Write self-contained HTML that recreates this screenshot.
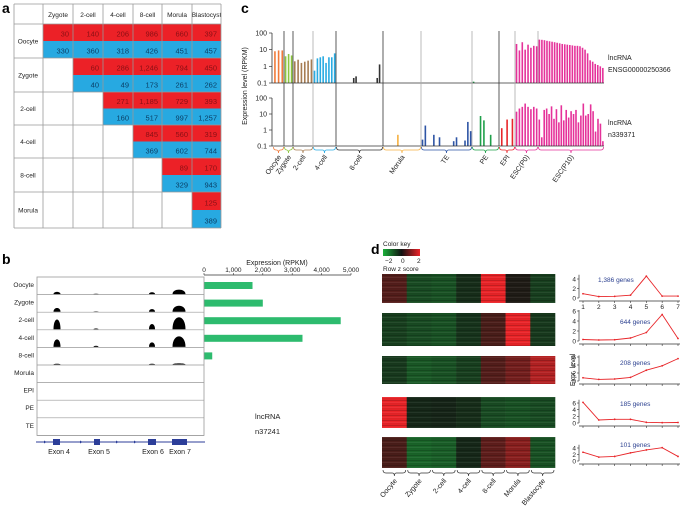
<!DOCTYPE html>
<html><head><meta charset="utf-8">
<style>
html,body{margin:0;padding:0;background:#fff;}
svg{display:block;font-family:"Liberation Sans",Arial,sans-serif;}
</style></head>
<body>
<svg id="fig" width="685" height="510" viewBox="0 0 685 510" xmlns="http://www.w3.org/2000/svg">
<defs>
<linearGradient id="ckey" x1="0" x2="1" y1="0" y2="0">
<stop offset="0" stop-color="#1bb03a"/><stop offset="0.5" stop-color="#111"/><stop offset="1" stop-color="#ee2229"/>
</linearGradient>
<pattern id="stripes" width="10" height="5" patternUnits="userSpaceOnUse">
<rect x="0" y="0" width="10" height="1" fill="#000" opacity="0.18"/>
<rect x="0" y="2" width="10" height="1" fill="#fff" opacity="0.06"/>
<rect x="0" y="3.5" width="10" height="0.8" fill="#000" opacity="0.1"/>
</pattern>
</defs>
<text x="2" y="13" font-size="14" font-weight="bold">a</text>
<text x="2" y="264" font-size="14" font-weight="bold">b</text>
<text x="241" y="13" font-size="14" font-weight="bold">c</text>
<text x="371" y="254" font-size="14" font-weight="bold">d</text>
</svg>
<script>
const NS='http://www.w3.org/2000/svg';
const svg=document.getElementById('fig');
function mk(tag,attrs,parent){const e=document.createElementNS(NS,tag);for(const k in attrs)e.setAttribute(k,attrs[k]);(parent||svg).appendChild(e);return e;}

/* ===== Panel a data ===== */
const aCols=['Zygote','2-cell','4-cell','8-cell','Morula','Blastocyst'];
const aRows=['Oocyte','Zygote','2-cell','4-cell','8-cell','Morula'];
const aUp=[['30','140','206','986','660','397'],['60','286','1,246','794','450'],['271','1,185','729','393'],['845','560','319'],['89','170'],['125']];
const aDown=[['330','360','318','426','451','457'],['40','49','173','261','262'],['160','517','997','1,257'],['369','602','744'],['329','943'],['389']];

const colX=[14,43,73,103,133,162,192,221];
const rowY=[4,24,58,92,125,158,192,228];
const gA=mk('g',{});


aRows.forEach((r,i)=>{
  const y0=rowY[i+1],y1=rowY[i+2],ym=(y0+y1)/2;
  aUp[i].forEach((v,j)=>{
    const c=i+j+1;const x0=colX[c],x1=colX[c+1];
    const rr=mk('rect',{x:x0,y:y0,width:x1-x0,height:ym-y0,fill:'#ec2127'},gA);
    
    
    const rb=mk('rect',{x:x0,y:ym,width:x1-x0,height:y1-ym,fill:'#27a9e1'},gA);
    
    
    const t1=mk('text',{x:x1-4,y:ym-4.5,'font-size':7.5,'text-anchor':'end',fill:'#8a1015'},gA);t1.textContent=v;
    
    
    const t2=mk('text',{x:x1-4,y:y1-4.5,'font-size':7.5,'text-anchor':'end',fill:'#0b3f66'},gA);t2.textContent=aDown[i][j];
    
    
  });
  const rl=mk('text',{x:28,y:ym+2.5,'font-size':6.5,'text-anchor':'middle',fill:'#222'},gA);rl.textContent=r;
  
  
});
aCols.forEach((c,j)=>{
  const t=mk('text',{x:(colX[j+1]+colX[j+2])/2,y:17,'font-size':6.5,'text-anchor':'middle',fill:'#222'},gA);t.textContent=c;
  
  
});
colX.forEach(x=>mk('line',{x1:x,x2:x,y1:4,y2:228,stroke:'#999','stroke-width':0.8},gA));
rowY.forEach(y=>mk('line',{x1:14,x2:221,y1:y,y2:y,stroke:'#999','stroke-width':0.8},gA));

/* ===== Panel c data ===== */
const cGroups=['Oocyte','Zygote','2-cell','4-cell','8-cell','Morula','TE','PE','EPI','ESC(P0)','ESC(P10)'];
const cTop=[[8,9,9],[4,5.5,4.5],[2,2.5,1.6,1.9,2.2,2.6],[0.55,3,3.5,4,1.6,3.5,3.5,6],
 [0,0,0,0,0,0,0,0.2,0.25,0,0,0,0,0,0,0,0,0.2,1.3,0],[0],[0],[0.12,0,0,0,0,0,0,0,0],[0],
 [22,9,28,10,20,13,17,16],
 [40,39,37,34,32,30,28,26,24,22,21,20,19,18,17,17,16,13,10,6,2.3,1.9,1.4,1.2,1,0.8]];
const cBot=[[0],[0],[0],[0],[0],[0,0,0,0.5,0,0,0,0,0],
 [0.25,1.9,0,0,0.5,0,0.35,0,0,0,0,0.2,0.35,0,0,0.22,3.2,0.85],
 [0,0,7.5,4,0,0.5,0,0],[1.3,4.5,5],
 [14,22,28,45,28,20,28,22],
 [4.5,0.35,18,22,10,30,5,20,3,35,4,18,6,15,10,18,3,8,45,8,10,40,15,0.8,5,2.5,0.2]];
const cTicks=['100','10','1','0.1'];
const cRanges=[[273,284],[284,293],[293,313],[313,336],[336,383],[383,421],[421,472],[472,499],[499,515],[515,538],[538,604]];
const cColors=['#f07a3a','#8dc63f','#a67c52','#29abe2','#333333','#f5b041','#2e55a5','#1fa04a','#e8262a','#e5329a','#e5329a'];
const panels=[{top:33,base:83,data:cTop,n1:'lncRNA',n2:'ENSG00000250366'},{top:98,base:146,data:cBot,n1:'lncRNA',n2:'n339371'}];
const gC=mk('g',{});


function yLog(p,v){return p.base-(Math.log10(v)+1)/3*(p.base-p.top);}
panels.forEach((p,pi)=>{
  cTicks.forEach(t=>{
    const y=yLog(p,parseFloat(t));
    mk('line',{x1:269,x2:272,y1:y,y2:y,stroke:'#333','stroke-width':0.7},gC);
    const tt=mk('text',{x:267,y:y+2.5,'font-size':7,'text-anchor':'end',fill:'#222'},gC);tt.textContent=t;
    
    
  });
  mk('line',{x1:272,x2:272,y1:p.top,y2:p.base,stroke:'#333','stroke-width':0.8},gC);
  p.data.forEach((arr,gi)=>{
    const [x0,x1]=cRanges[gi];const w=(x1-x0)/arr.length;
    arr.forEach((v,i)=>{
      if(v<=0.1)return;
      const x=x0+(i+0.5)*w;const y=yLog(p,v);
      const b=mk('rect',{x:x-0.7,y:y,width:Math.min(1.6,w*0.7),height:p.base-y,fill:cColors[gi]},gC);
      
      
    });
  });
  mk('line',{x1:272,x2:604,y1:p.base,y2:p.base,stroke:'#333','stroke-width':0.8},gC);
  const l1=mk('text',{x:608,y:p.top+27,'font-size':7,fill:'#222'},gC);l1.textContent=p.n1;
  
  
  const l2=mk('text',{x:608,y:p.top+39,'font-size':7,fill:'#222'},gC);l2.textContent=p.n2;
  
  
});
[[284,'#333'],[293,'#333'],[313,'#aaa'],[336,'#333'],[383,'#333'],[421,'#aaa'],[472,'#aaa'],[499,'#333'],[515,'#aaa']].forEach(([x,c])=>mk('line',{x1:x,x2:x,y1:31,y2:146,stroke:c,'stroke-width':0.8},gC));
mk('line',{x1:538,x2:538,y1:31,y2:83,stroke:'#aaa','stroke-width':0.8},gC);
const yt=mk('text',{x:0,y:0,'font-size':7,'text-anchor':'middle',fill:'#222',transform:'translate(247,86) rotate(-90)'},gC);yt.textContent='Expression level (RPKM)';


cGroups.forEach((g,gi)=>{
  const [x0,x1]=cRanges[gi];const xm=(x0+x1)/2;
  mk('path',{d:`M${x0+0.5},147 Q${x0+0.5},150 ${x0+3},150 L${xm-2},150 Q${xm},150 ${xm},153 Q${xm},150 ${xm+2},150 L${x1-3},150 Q${x1-0.5},150 ${x1-0.5},147`,fill:'none',stroke:cColors[gi],'stroke-width':0.8},gC);
  const t=mk('text',{x:0,y:0,'font-size':7,'text-anchor':'end',fill:'#222',transform:`translate(${xm+3},157) rotate(-55)`},gC);t.textContent=g;
  
  
});

/* ===== Panel b data ===== */
const bRows=['Oocyte','Zygote','2-cell','4-cell','8-cell','Morula','EPI','PE','TE'];
const bExpr=[1650,2000,4650,3350,280];
const bTicks=[0,1000,2000,3000,4000,5000];
const bPeaks=[[3,0.4,2.5,6],[5,0.4,3.5,8],[13,1,7,16],[10,1.5,6,14],[1,0,1,1.5],[0,0,0,0],[0,0,0,0],[0,0,0,0],[0,0,0,0]];
const gB=mk('g',{});


const tx0=37,tx1=204,ty0=277,rh=17.6;
const exonC=[57,96,152,179],exonW=[6,4,5,12];
const bx=v=>204+v/5000*147;
bRows.forEach((r,i)=>{
  const y0=ty0+i*rh,y1=y0+rh;
  mk('line',{x1:tx0,x2:tx1,y1:y1,y2:y1,stroke:'#999','stroke-width':0.7},gB);
  const t=mk('text',{x:34,y:y0+10,'font-size':6.5,'text-anchor':'end',fill:'#222'},gB);t.textContent=r;
  
  
  bPeaks[i].forEach((h,k)=>{
    if(h<=0)return;
    const c=exonC[k],w=exonW[k]/2+0.5,b=y1-0.5;
    const pk=mk('path',{d:`M${c-w},${b} C${c-w},${b-h} ${c+w},${b-h} ${c+w},${b} Z`,fill:'#000'},gB);
    
    
  });
  if(i<bExpr.length){
    const bar=mk('rect',{x:204,y:y0+5,width:bx(bExpr[i])-204,height:7,fill:'#2dbb6e'},gB);
    
    
  }
});
mk('rect',{x:tx0,y:ty0,width:tx1-tx0,height:rh*9,fill:'none',stroke:'#999','stroke-width':0.8},gB);
mk('line',{x1:204,x2:351,y1:275,y2:275,stroke:'#333','stroke-width':0.7},gB);
bTicks.forEach(v=>{
  mk('line',{x1:bx(v),x2:bx(v),y1:273,y2:275,stroke:'#333','stroke-width':0.6},gB);
  const t=mk('text',{x:bx(v),y:272,'font-size':6.5,'text-anchor':'middle',fill:'#222'},gB);t.textContent=v.toLocaleString('en-US');
  
  
});
const bt=mk('text',{x:277,y:265,'font-size':7,'text-anchor':'middle',fill:'#222'},gB);bt.textContent='Expression (RPKM)';


mk('line',{x1:36,x2:205,y1:442,y2:442,stroke:'#2c3e99','stroke-width':1},gB);
[44,80,116,134].forEach(x=>mk('path',{d:`M${x},440.5 L${x+2.5},442 L${x},443.5 Z`,fill:'#2c3e99'},gB));
[[53,60],[94,100],[148,156],[172,187]].forEach(([a,b])=>{
  const ex=mk('rect',{x:a,y:439,width:b-a,height:6,fill:'#2c3e99'},gB);
  
  
});
[['Exon 4',59],['Exon 5',99],['Exon 6',153],['Exon 7',180]].forEach(([s,x])=>{
  const t=mk('text',{x:x,y:454,'font-size':7,'text-anchor':'middle',fill:'#222'},gB);t.textContent=s;
  
  
});
const bl1=mk('text',{x:255,y:419,'font-size':7.5,fill:'#222'},gB);bl1.textContent='lncRNA';


const bl2=mk('text',{x:255,y:434,'font-size':7.5,fill:'#222'},gB);bl2.textContent='n37241';



/* ===== Panel d data ===== */
const dStages=['Oocyte','Zygote','2-cell','4-cell','8-cell','Morula','Blastocyte'];
const dZ=[[0.6,-0.8,-0.9,-0.3,2,0.1,-0.6],[-0.6,-0.8,-0.9,-0.4,0.5,2,-0.5],[-0.5,-1,-0.9,-0.6,0.6,0.9,1.5],[2,-0.2,-0.15,-0.3,-0.8,-0.9,-0.8],[0.5,-1.2,-1.1,-0.2,0.7,1.1,-0.9]];
const dGenes=['1,386 genes','644 genes','208 genes','185 genes','101 genes'];
const dLines=[[0.9,0.3,0.35,0.6,4.6,0.4,0.4],[0.3,0.2,0.25,0.6,1.7,5.3,0.5],[0.8,0.4,0.5,0.9,2.7,3.8,5.6],[6.2,0.9,1.1,1.1,0.2,0.1,0.15],[2.7,1.2,1.4,2.5,3.4,4.1,1.4]];
const dTicks=[[0,2,4],[0,2,4,6],[0,2,4,6],[0,2,4,6],[0,2,4]];
const hmY=[[274,303],[313,346],[356,384],[397,428],[437,468]];
const lnAx=[[298,4.75,4.9],[341,5,6.2],[381,4,6.4],[423,3.33,7],[461,3.25,5]];
const gD=mk('g',{});


function zc(z){z=Math.max(-2,Math.min(2,z));let r,g,b;
  if(z<0){const t=-z/2;r=22*(1-t)+30*t;g=28*(1-t)+150*t;b=22*(1-t)+55*t;}
  else{const t=z/2;r=22*(1-t)+235*t;g=28*(1-t)+36*t;b=22*(1-t)+40*t;}
  return `rgb(${r|0},${g|0},${b|0})`;}
const hx0=382,hx1=555,cw=(hx1-hx0)/7;
mk('rect',{x:383,y:249,width:37,height:7,fill:'url(#ckey)'},gD);
[['Color key',383,246],['\u22122',385,263],['0',401,263],['2',417,263],['Row z score',383,271]].forEach(([s,x,y])=>{
  const t=mk('text',{x:x,y:y,'font-size':6.5,fill:'#222'},gD);t.textContent=s;
  
  
});
dZ.forEach((row,bi)=>{
  const [y0,y1]=hmY[bi];
  row.forEach((z,j)=>{
    const c=mk('rect',{x:hx0+j*cw,y:y0,width:cw+0.3,height:y1-y0,fill:zc(z)},gD);
    
    
  });
  mk('rect',{x:hx0,y:y0,width:hx1-hx0,height:y1-y0,fill:'url(#stripes)'},gD);
  const [zy,sc,mx]=lnAx[bi];const lx=k=>583+k*(678-583)/6;const ly=v=>zy-v*sc;
  mk('line',{x1:579,x2:579,y1:ly(mx),y2:zy,stroke:'#333','stroke-width':0.7},gD);
  mk('line',{x1:579,x2:680,y1:zy+3,y2:zy+3,stroke:'#333','stroke-width':0.7},gD);
  dTicks[bi].forEach(v=>{
    mk('line',{x1:577,x2:579,y1:ly(v),y2:ly(v),stroke:'#333','stroke-width':0.6},gD);
    const t=mk('text',{x:576,y:ly(v)+2.3,'font-size':6.5,'text-anchor':'end',fill:'#222'},gD);t.textContent=v;
    
    
  });
  for(let k=0;k<7;k++){mk('line',{x1:lx(k),x2:lx(k),y1:zy+3,y2:zy+5,stroke:'#333','stroke-width':0.6},gD);
    if(bi===0){const t=mk('text',{x:lx(k),y:zy+11,'font-size':6.5,'text-anchor':'middle',fill:'#222'},gD);t.textContent=k+1;
      
      }}
  const pl=mk('polyline',{points:dLines[bi].map((v,k)=>lx(k)+','+ly(v)).join(' '),fill:'none',stroke:'#e8262a','stroke-width':0.9},gD);
  
  
  dLines[bi].forEach((v,k)=>mk('circle',{cx:lx(k),cy:ly(v),r:0.9,fill:'#e8262a'},gD));
  const gx=[598,620,620,620,620][bi];
  const gl=mk('text',{x:gx,y:[282,324,365,406,447][bi],'font-size':6.5,fill:'#2a3f8f'},gD);gl.textContent=dGenes[bi];
  
  
});
const el=mk('text',{x:0,y:0,'font-size':7,'text-anchor':'middle',fill:'#222',transform:'translate(575,370) rotate(-90)'},gD);el.textContent='Expr. level';


dStages.forEach((s,j)=>{
  const x0=hx0+j*cw+1,x1=x0+cw-2,xm=(x0+x1)/2;
  mk('path',{d:`M${x0},470 Q${x0},473 ${x0+3},473 L${xm-2},473 Q${xm},473 ${xm},476 Q${xm},473 ${xm+2},473 L${x1-3},473 Q${x1},473 ${x1},470`,fill:'none',stroke:'#333','stroke-width':0.7},gD);
  const t=mk('text',{x:0,y:0,'font-size':7,'text-anchor':'end',fill:'#222',transform:`translate(${xm+3},481) rotate(-50)`},gD);t.textContent=s;
  
  
});
</script>
</body></html>
